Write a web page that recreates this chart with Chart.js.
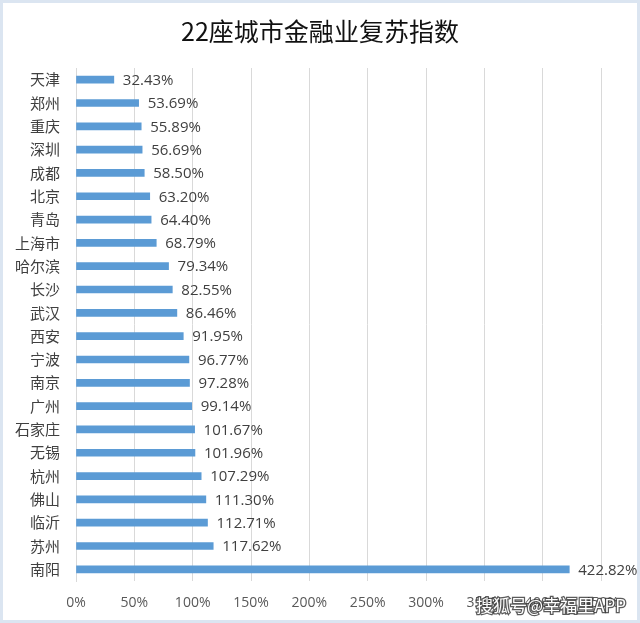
<!DOCTYPE html>
<html><head><meta charset="utf-8">
<script src="https://cdn.jsdelivr.net/npm/chart.js@4/dist/chart.umd.min.js"></script>
<style>html,body{margin:0;padding:0;background:#fff;}#wrap{width:640px;height:623px;position:relative;}</style>
</head><body><div id="wrap"><canvas id="c" width="640" height="623"></canvas></div>
<script>
const title = "22座城市金融业复苏指数";
const cities = ["天津","郑州","重庆","深圳","成都","北京","青岛","上海市","哈尔滨","长沙","武汉","西安","宁波","南京","广州","石家庄","无锡","杭州","佛山","临沂","苏州","南阳"];
const values = [32.43,53.69,55.89,56.69,58.50,63.20,64.40,68.79,79.34,82.55,86.46,91.95,96.77,97.28,99.14,101.67,101.96,107.29,111.30,112.71,117.62,422.82];
const xTicks = [0,50,100,150,200,250,300,350,400,450];
const watermark = "搜狐号@幸福里APP";

const bgPlugin = {
  id:'bg',
  beforeDraw(chart){
    const c = chart.ctx;
    c.save();
    c.fillStyle='#fff'; c.fillRect(0,0,chart.width,chart.height);
    c.strokeStyle='#dbe5f1'; c.lineWidth=3;
    c.strokeRect(1.5,1.5,chart.width-3,chart.height-3);
    c.fillStyle='#111';
    c.font='25px "Noto Sans CJK SC", serif';
    c.textAlign='center'; c.textBaseline='middle';
    c.fillText(title, 320, 31);
    c.restore();
  },
  afterDraw(chart){
    const c = chart.ctx;
    const meta = chart.getDatasetMeta(0);
    c.save();
    c.font='15px "Open Sans", sans-serif';
    c.fillStyle='#404040'; c.textAlign='left'; c.textBaseline='middle';
    meta.data.forEach((bar,i)=>{
      c.fillText(values[i].toFixed(2)+'%', bar.x+9, bar.y+1);
    });
    c.font='17px "Noto Sans CJK SC", sans-serif';
    c.textAlign='right';
    c.lineWidth=2.5; c.strokeStyle='rgba(50,50,50,0.8)';
    c.strokeText(watermark, 626, 606);
    c.fillStyle='#fff';
    c.fillText(watermark, 626, 606);
    c.restore();
  }
};

new Chart(document.getElementById('c'), {
  type:'bar',
  data:{labels:cities, datasets:[{data:values, backgroundColor:'#5b9bd5', barThickness:7}]},
  options:{
    indexAxis:'y', responsive:false, animation:false,
    layout:{padding:{left:0,right:39,top:68,bottom:0}},
    plugins:{legend:{display:false}, tooltip:{enabled:false}},
    scales:{
      x:{min:0,max:450,
        afterBuildTicks(s){ s.ticks = xTicks.map(v=>({value:v})); },
        afterFit(s){ s.height = 42; },
        grid:{color:'#d9d9d9', drawTicks:false},
        border:{display:false},
        ticks:{padding:14, color:'#595959', font:{size:14,family:'"Open Sans", sans-serif'}, callback:v=>v+'%'}
      },
      y:{
        afterFit(s){ s.width = 76; },
        grid:{display:false, drawTicks:false},
        border:{color:'#d9d9d9'},
        ticks:{padding:16, color:'#404040', font:{size:15,family:'"Noto Sans CJK SC", sans-serif'}}
      }
    }
  },
  plugins:[bgPlugin]
});
</script></body></html>
